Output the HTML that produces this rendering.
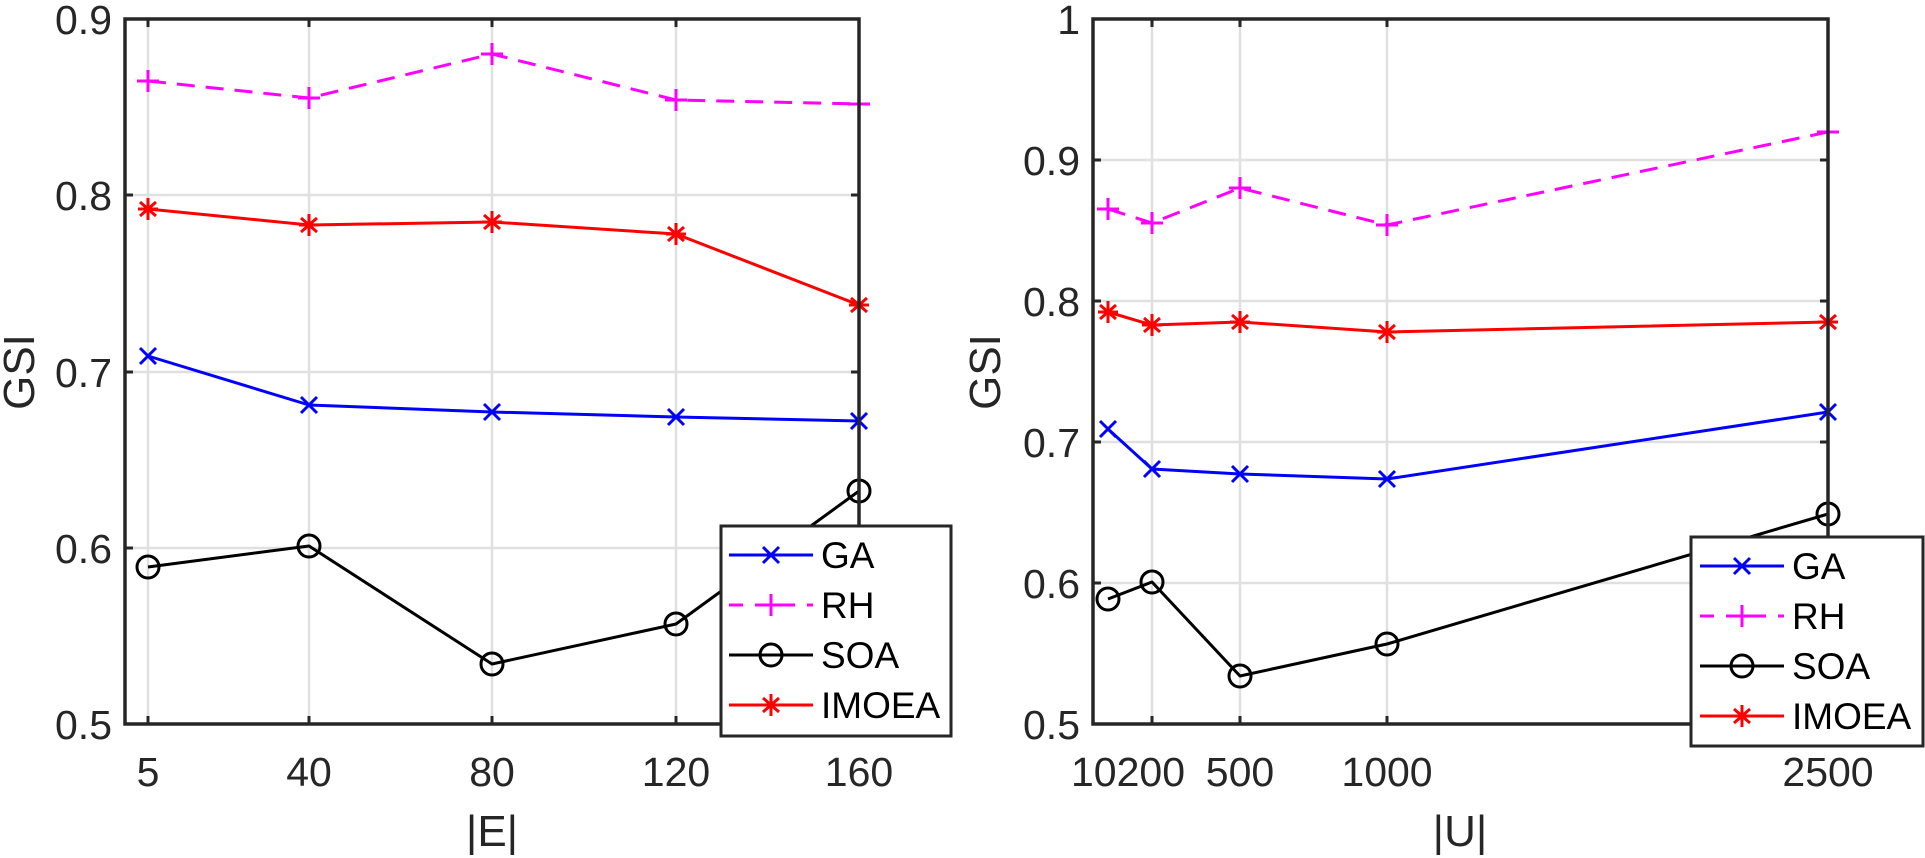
<!DOCTYPE html>
<html><head><meta charset="utf-8"><style>
html,body{margin:0;padding:0;background:#fff;}
svg{display:block;font-family:"Liberation Sans",sans-serif;}
</style></head><body>
<svg width="1925" height="858" viewBox="0 0 1925 858" xmlns="http://www.w3.org/2000/svg">
<defs>
<g id="mx"><path d="M-8,-8L8,8M-8,8L8,-8" stroke-width="3"/></g>
<g id="mp"><path d="M-11,0H11M0,-11V11" stroke-width="3"/></g>
<g id="mo"><circle r="11" fill="none" stroke-width="3"/></g>
<g id="ms"><path d="M-10,0H10M0,-11V11M-8,-7L8,7M-8,7L8,-7" stroke-width="3"/></g>
</defs>

<!-- LEFT PLOT -->
<g stroke="#e0e0e0" stroke-width="2.5">
<line x1="148" y1="19" x2="148" y2="724"/><line x1="309" y1="19" x2="309" y2="724"/>
<line x1="492" y1="19" x2="492" y2="724"/><line x1="676" y1="19" x2="676" y2="724"/>
<line x1="125" y1="195" x2="859" y2="195"/><line x1="125" y1="372" x2="859" y2="372"/>
<line x1="125" y1="548" x2="859" y2="548"/>
</g>
<g fill="none" stroke-width="3" stroke-linejoin="round">
<polyline stroke="#ff00ff" stroke-dasharray="18,11" points="148,81 309,98 492,54 676,100 859,104"/>
<polyline stroke="#ff0000" points="148,209 309,225 492,222 676,234 859,305"/>
<polyline stroke="#0000ff" points="148,356 309,405 492,412 676,417 859,421"/>
<polyline stroke="#000" points="148,567 309,546 492,664 676,624 859,491"/>
</g>
<g stroke="#ff00ff"><use href="#mp" x="148" y="81"/><use href="#mp" x="309" y="98"/><use href="#mp" x="492" y="54"/><use href="#mp" x="676" y="100"/><use href="#mp" x="859" y="104"/></g>
<g stroke="#ff0000"><use href="#ms" x="148" y="209"/><use href="#ms" x="309" y="225"/><use href="#ms" x="492" y="222"/><use href="#ms" x="676" y="234"/><use href="#ms" x="859" y="305"/></g>
<g stroke="#0000ff"><use href="#mx" x="148" y="356"/><use href="#mx" x="309" y="405"/><use href="#mx" x="492" y="412"/><use href="#mx" x="676" y="417"/><use href="#mx" x="859" y="421"/></g>
<g stroke="#000"><use href="#mo" x="148" y="567"/><use href="#mo" x="309" y="546"/><use href="#mo" x="492" y="664"/><use href="#mo" x="676" y="624"/><use href="#mo" x="859" y="491"/></g>
<rect x="125" y="19" width="734" height="705" fill="none" stroke="#262626" stroke-width="3.5"/>
<g stroke="#262626" stroke-width="3">
<line x1="148" y1="724" x2="148" y2="716"/><line x1="309" y1="724" x2="309" y2="716"/><line x1="492" y1="724" x2="492" y2="716"/><line x1="676" y1="724" x2="676" y2="716"/>
<line x1="148" y1="19" x2="148" y2="27"/><line x1="309" y1="19" x2="309" y2="27"/><line x1="492" y1="19" x2="492" y2="27"/><line x1="676" y1="19" x2="676" y2="27"/>
<line x1="125" y1="195" x2="133" y2="195"/><line x1="125" y1="372" x2="133" y2="372"/><line x1="125" y1="548" x2="133" y2="548"/>
<line x1="859" y1="195" x2="851" y2="195"/><line x1="859" y1="372" x2="851" y2="372"/><line x1="859" y1="548" x2="851" y2="548"/>
</g>
<g fill="#262626" font-size="41" text-anchor="end">
<text x="112" y="34">0.9</text><text x="112" y="210">0.8</text><text x="112" y="387">0.7</text><text x="112" y="563">0.6</text><text x="112" y="739">0.5</text>
</g>
<g fill="#262626" font-size="41" text-anchor="middle">
<text x="148" y="786">5</text><text x="309" y="786">40</text><text x="492" y="786">80</text><text x="676" y="786">120</text><text x="859" y="786">160</text>
<text x="492" y="846" font-size="44">|E|</text>
<text transform="translate(34,372) rotate(-90)" font-size="44">GSI</text>
</g>
<rect x="721" y="526" width="230" height="210" fill="#fff" stroke="#262626" stroke-width="3"/>
<line x1="729" y1="555" x2="813" y2="555" stroke="#0000ff" stroke-width="3"/><use href="#mx" x="771" y="555" stroke="#0000ff"/>
<line x1="729" y1="605" x2="813" y2="605" stroke="#ff00ff" stroke-width="3" stroke-dasharray="14,12"/><use href="#mp" x="771" y="605" stroke="#ff00ff"/>
<line x1="729" y1="655" x2="813" y2="655" stroke="#000" stroke-width="3"/><use href="#mo" x="771" y="655" stroke="#000"/>
<line x1="729" y1="705" x2="813" y2="705" stroke="#ff0000" stroke-width="3"/><use href="#ms" x="771" y="705" stroke="#ff0000"/>
<g font-size="37" fill="#000">
<text x="821" y="568">GA</text><text x="821" y="618">RH</text><text x="821" y="668">SOA</text><text x="821" y="718">IMOEA</text>
</g>

<!-- RIGHT PLOT -->
<g stroke="#e0e0e0" stroke-width="2.5">
<line x1="1152" y1="19" x2="1152" y2="724"/><line x1="1240" y1="19" x2="1240" y2="724"/>
<line x1="1387" y1="19" x2="1387" y2="724"/>
<line x1="1093" y1="160" x2="1828" y2="160"/><line x1="1093" y1="301" x2="1828" y2="301"/>
<line x1="1093" y1="442" x2="1828" y2="442"/><line x1="1093" y1="583" x2="1828" y2="583"/>
</g>
<g fill="none" stroke-width="3" stroke-linejoin="round">
<polyline stroke="#ff00ff" stroke-dasharray="18,11" points="1108,209 1152,223 1240,188 1387,225 1828,132"/>
<polyline stroke="#ff0000" points="1108,312 1152,325 1240,322 1387,332 1828,322"/>
<polyline stroke="#0000ff" points="1108,429 1152,469 1240,474 1387,479 1828,412"/>
<polyline stroke="#000" points="1108,599 1152,582 1240,676 1387,644 1828,514"/>
</g>
<g stroke="#ff00ff"><use href="#mp" x="1108" y="209"/><use href="#mp" x="1152" y="223"/><use href="#mp" x="1240" y="188"/><use href="#mp" x="1387" y="225"/><use href="#mp" x="1828" y="132"/></g>
<g stroke="#ff0000"><use href="#ms" x="1108" y="312"/><use href="#ms" x="1152" y="325"/><use href="#ms" x="1240" y="322"/><use href="#ms" x="1387" y="332"/><use href="#ms" x="1828" y="322"/></g>
<g stroke="#0000ff"><use href="#mx" x="1108" y="429"/><use href="#mx" x="1152" y="469"/><use href="#mx" x="1240" y="474"/><use href="#mx" x="1387" y="479"/><use href="#mx" x="1828" y="412"/></g>
<g stroke="#000"><use href="#mo" x="1108" y="599"/><use href="#mo" x="1152" y="582"/><use href="#mo" x="1240" y="676"/><use href="#mo" x="1387" y="644"/><use href="#mo" x="1828" y="514"/></g>
<rect x="1093" y="19" width="735" height="705" fill="none" stroke="#262626" stroke-width="3.5"/>
<g stroke="#262626" stroke-width="3">
<line x1="1152" y1="724" x2="1152" y2="716"/><line x1="1240" y1="724" x2="1240" y2="716"/><line x1="1387" y1="724" x2="1387" y2="716"/>
<line x1="1152" y1="19" x2="1152" y2="27"/><line x1="1240" y1="19" x2="1240" y2="27"/><line x1="1387" y1="19" x2="1387" y2="27"/>
<line x1="1093" y1="160" x2="1101" y2="160"/><line x1="1093" y1="301" x2="1101" y2="301"/><line x1="1093" y1="442" x2="1101" y2="442"/><line x1="1093" y1="583" x2="1101" y2="583"/>
<line x1="1828" y1="160" x2="1820" y2="160"/><line x1="1828" y1="301" x2="1820" y2="301"/><line x1="1828" y1="442" x2="1820" y2="442"/><line x1="1828" y1="583" x2="1820" y2="583"/>
</g>
<g fill="#262626" font-size="41" text-anchor="end">
<text x="1080" y="34">1</text><text x="1080" y="175">0.9</text><text x="1080" y="316">0.8</text><text x="1080" y="457">0.7</text><text x="1080" y="598">0.6</text><text x="1080" y="739">0.5</text>
</g>
<g fill="#262626" font-size="41" text-anchor="middle">
<text x="1128" y="786">10200</text><text x="1240" y="786">500</text><text x="1387" y="786">1000</text><text x="1828" y="786">2500</text>
<text x="1460" y="846" font-size="44">|U|</text>
<text transform="translate(1000,372) rotate(-90)" font-size="44">GSI</text>
</g>
<rect x="1691" y="537" width="232" height="209" fill="#fff" stroke="#262626" stroke-width="3"/>
<line x1="1700" y1="566" x2="1784" y2="566" stroke="#0000ff" stroke-width="3"/><use href="#mx" x="1742" y="566" stroke="#0000ff"/>
<line x1="1700" y1="616" x2="1784" y2="616" stroke="#ff00ff" stroke-width="3" stroke-dasharray="14,12"/><use href="#mp" x="1742" y="616" stroke="#ff00ff"/>
<line x1="1700" y1="666" x2="1784" y2="666" stroke="#000" stroke-width="3"/><use href="#mo" x="1742" y="666" stroke="#000"/>
<line x1="1700" y1="716" x2="1784" y2="716" stroke="#ff0000" stroke-width="3"/><use href="#ms" x="1742" y="716" stroke="#ff0000"/>
<g font-size="37" fill="#000">
<text x="1792" y="579">GA</text><text x="1792" y="629">RH</text><text x="1792" y="679">SOA</text><text x="1792" y="729">IMOEA</text>
</g>
</svg>
</body></html>
